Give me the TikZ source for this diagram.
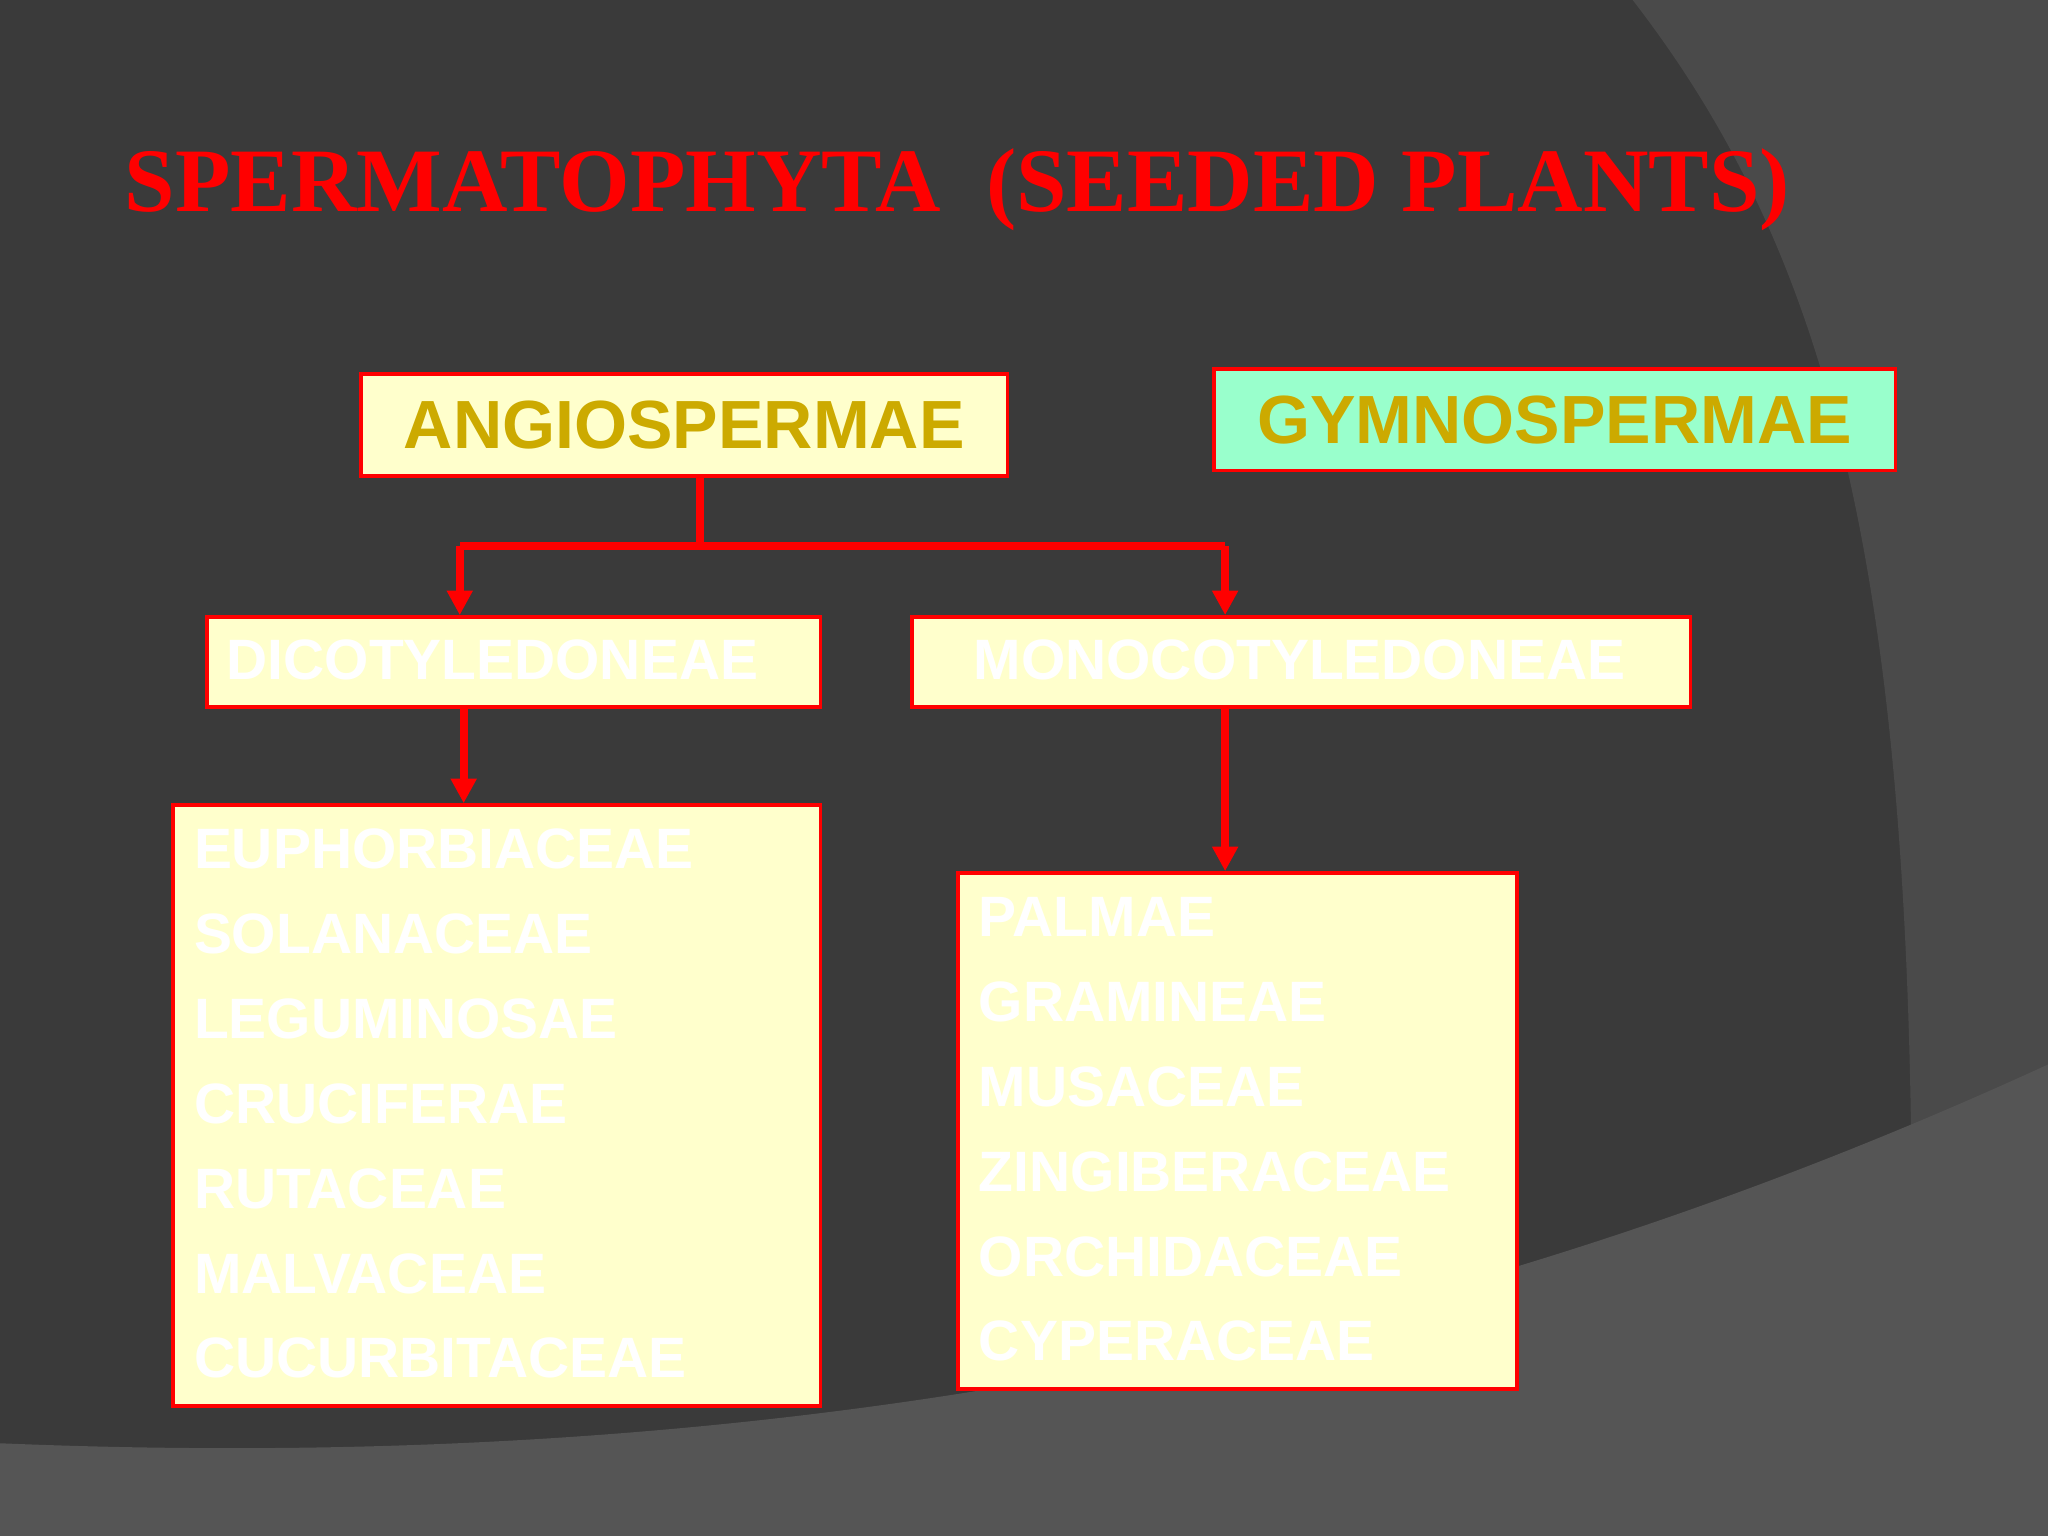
\documentclass[tikz,border=0pt]{standalone}
\usepackage{fontspec}
\setmainfont{Liberation Sans}
\newfontfamily\serifb{Liberation Serif}
\definecolor{bg}{HTML}{3A3A3A}
\definecolor{bgl}{HTML}{4A4A4A}
\definecolor{bgb}{HTML}{555555}
\definecolor{pale}{HTML}{FFFFCC}
\definecolor{mint}{HTML}{99FFCC}
\definecolor{gold}{HTML}{CCAA00}
\newcommand{\U}{0.01306cm}
\tikzset{
 box/.style={draw=red,line width=1pt,fill=pale,anchor=north west,inner sep=0pt},
 head/.style={text=gold,font=\bfseries\fontsize{19.4}{23}\selectfont},
 sub/.style={text=white,font=\bfseries\fontsize{16.2}{20}\selectfont,anchor=west},
 item/.style={text=white,font=\bfseries\fontsize{16.2}{20}\selectfont,anchor=west,inner sep=0pt},
 conn/.style={red,line width=2.2pt},
 arr/.style={conn,-{Triangle[length=7pt,width=7pt]}}
}
\usetikzlibrary{arrows.meta}
\begin{document}
\begin{tikzpicture}[x=0.01306cm,y=-0.01306cm]
\fill[bg] (0,0) rectangle (1568,1176);
\useasboundingbox (0,0) rectangle (1568,1176);
\fill[bgl] (1250,0) .. controls (1420,220) and (1480,500) .. (1460,1176) -- (1568,1176) -- (1568,0) -- cycle;
\fill[bgb] (0,1105) .. controls (600,1130) and (1100,1030) .. (1568,815) -- (1568,1176) -- (0,1176) -- cycle;
\node[red,font=\serifb\bfseries\fontsize{25.8}{30}\selectfont,anchor=west,inner sep=0pt] (title) at (95,145) {SPERMATOPHYTA\ \ (SEEDED PLANTS)};
\node[box,minimum width={495*\U},minimum height={78*\U},head] (angio) at (275,285) {ANGIOSPERMAE};
\node[box,fill=mint,minimum width={522*\U},minimum height={78*\U},head] (gymno) at (928,281) {GYMNOSPERMAE};
\node[box,minimum width={470*\U},minimum height={69*\U}] (dicot) at (157,471) {};
\node[sub,inner sep=0pt] (dicott) at (173,505) {DICOTYLEDONEAE};
\node[box,minimum width={596*\U},minimum height={69*\U}] (mono) at (697,471) {};
\node[sub,inner sep=0pt] (monot) at (745,505) {MONOCOTYLEDONEAE};
\node[box,minimum width={496*\U},minimum height={460*\U}] (dlist) at (131,615) {};
\node[box,minimum width={428*\U},minimum height={395*\U}] (mlist) at (732,667) {};
\foreach \t [count=\i from 0] in {EUPHORBIACEAE,SOLANACEAE,LEGUMINOSAE,CRUCIFERAE,RUTACEAE,MALVACEAE,CUCURBITACEAE}
  \node[item] (d\i) at (148,650+65*\i) {\t};
\foreach \t [count=\i from 0] in {PALMAE,GRAMINEAE,MUSACEAE,ZINGIBERACEAE,ORCHIDACEAE,CYPERACEAE}
  \node[item] (m\i) at (749,702+65*\i) {\t};
\coordinate (j) at (536,418);
\coordinate (jl) at (352,418);
\coordinate (jr) at (938,418);
\draw[conn] (angio.south -| j) -- (j);
\draw[conn] (jl) -- (jr);
\draw[arr] (jl) -- (jl |- dicot.north);
\draw[arr] (jr) -- (jr |- mono.north);
\draw[arr] (dicot.south -| 355,0) -- (dlist.north -| 355,0);
\draw[arr] (mono.south -| 938,0) -- (mlist.north -| 938,0);
\end{tikzpicture}
\end{document}
